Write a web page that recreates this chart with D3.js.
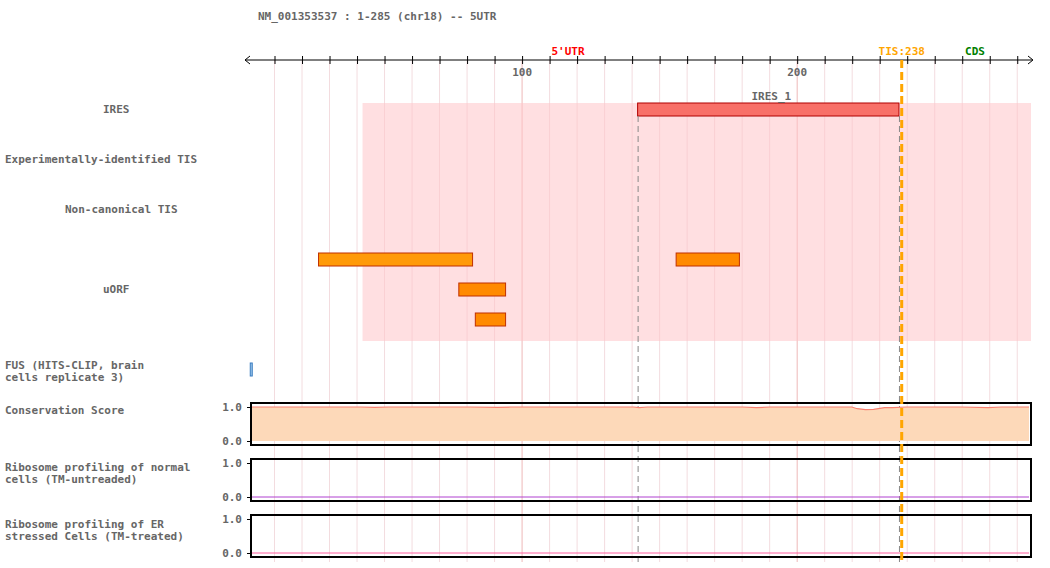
<!DOCTYPE html>
<html><head><meta charset="utf-8">
<script src="https://cdn.jsdelivr.net/npm/d3@7"></script>
<style>
body{margin:0;background:#fff}
text{font-family:"DejaVu Sans Mono",monospace;font-weight:bold;font-size:11px;fill:#666}
</style></head><body><div id="chart"></div>
<script>
// data
const seqLength = 285;
const tisPos = 238;
const ires = [{name: 'IRES_1', start: 142, end: 237}];
const utrBand = [42, 285];
const uorfs = [
  {start: 26, end: 82, row: 0},
  {start: 156, end: 179, row: 0},
  {start: 77, end: 94, row: 1},
  {start: 83, end: 94, row: 2}
];
const fusPeaks = [{start: 1, end: 2}];
const consPos = [0,20,40,45,50,60,80,90,95,100,120,140,142,145,160,180,185,190,200,220,222,225,228,232,235,240,260,270,275,285];
const consVal = [1,1,1,0.99,1,1,1,0.99,1,1,1,1,0.98,1,1,1,0.98,1,1,1,0.95,0.92,0.93,0.98,0.98,1,1,0.98,1,1];
const riboNormal = [0, 0];
const riboStress = [0, 0];
const trackLabels = [
  {text: ['IRES'], y: 113, x: 103},
  {text: ['Experimentally-identified TIS'], y: 163, x: 5},
  {text: ['Non-canonical TIS'], y: 213, x: 65},
  {text: ['uORF'], y: 293, x: 103},
  {text: ['FUS (HITS-CLIP, brain', 'cells replicate 3)'], y: 369, x: 5},
  {text: ['Conservation Score'], y: 414, x: 5},
  {text: ['Ribosome profiling of normal', 'cells (TM-untreaded)'], y: 471, x: 5},
  {text: ['Ribosome profiling of ER', 'stressed Cells (TM-treated)'], y: 528, x: 5}
];

const svg = d3.select('#chart').append('svg').attr('width', 1050).attr('height', 568);
const x = d3.scaleLinear().domain([0, seqLength]).range([247, 1031]);

svg.append('text').attr('x', 258).attr('y', 20).text('NM_001353537 : 1-285 (chr18) -- 5UTR');

// grid
const grid = d3.range(10, seqLength + 1, 10);
svg.append('g').selectAll('line').data(grid).enter().append('line')
  .attr('x1', d => x(d)).attr('x2', d => x(d)).attr('y1', 60).attr('y2', 562)
  .attr('stroke', d => d % 100 === 0 ? '#eeb8b8' : '#f3dcdf').attr('stroke-width', 1);

// pink band
svg.append('rect').attr('x', x(utrBand[0])).attr('width', x(utrBand[1]) - x(utrBand[0]))
  .attr('y', 103).attr('height', 238).attr('fill', '#ffc4c8').attr('opacity', 0.55);

// axis
const axis = d3.axisTop(x).tickValues(grid).tickSize(4).tickFormat('');
const ag = svg.append('g').attr('transform', 'translate(0,60)').call(axis);
ag.select('.domain').attr('d', `M245,0H1032`).attr('stroke', '#000');
ag.selectAll('.tick line').attr('y2', 4).attr('y1', -4).attr('stroke', '#000');
ag.append('path').attr('d', 'M250,-4L245,0L250,4').attr('fill', 'none').attr('stroke', '#000');
ag.append('path').attr('d', 'M1028,-4L1033,0L1028,4').attr('fill', 'none').attr('stroke', '#000');
svg.selectAll('.lbl100').data([100, 200]).enter().append('text')
  .attr('x', d => x(d)).attr('y', 76).attr('text-anchor', 'middle').text(d => d);
svg.append('text').attr('x', 568).attr('y', 55).attr('text-anchor', 'middle').style('fill', '#f00').text("5'UTR");
svg.append('text').attr('x', x(tisPos)).attr('y', 55).attr('text-anchor', 'middle').style('fill', '#ffa500').text('TIS:' + tisPos);
svg.append('text').attr('x', 975).attr('y', 55).attr('text-anchor', 'middle').style('fill', 'green').text('CDS');

// track labels
trackLabels.forEach(l => {
  const t = svg.append('text').attr('x', l.x).attr('y', l.y);
  l.text.forEach((s, i) => t.append('tspan').attr('x', l.x).attr('dy', i ? 12 : 0).text(s));
});

// IRES
svg.selectAll('.ires').data(ires).enter().append('rect')
  .attr('x', d => x(d.start)).attr('width', d => x(d.end) - x(d.start))
  .attr('y', 103).attr('height', 13).attr('fill', '#f87068').attr('stroke', '#b00000');
svg.selectAll('.iresl').data(ires).enter().append('text')
  .attr('x', d => (x(d.start) + x(d.end)) / 2 + 3).attr('y', 100).attr('text-anchor', 'middle').text(d => d.name);
[ires[0].start, ires[0].end].forEach(p => svg.append('line').attr('x1', x(p) + 0.5).attr('x2', x(p) + 0.5)
  .attr('y1', 116).attr('y2', 562).attr('stroke', '#888').attr('stroke-dasharray', '6,4'));

// uORFs
svg.selectAll('.uorf').data(uorfs).enter().append('rect')
  .attr('x', d => x(d.start)).attr('width', d => x(d.end) - x(d.start))
  .attr('y', d => 253 + d.row * 30).attr('height', 13)
  .attr('fill', (d, i) => i === 0 ? '#ff9a08' : '#ff8a00').attr('stroke', '#c03000');

// FUS
svg.selectAll('.fus').data(fusPeaks).enter().append('rect')
  .attr('x', d => x(d.start) + 0.5).attr('width', 2).attr('y', 363).attr('height', 13)
  .attr('fill', '#9cc6ec').attr('stroke', '#3a7cc0').attr('stroke-width', 1);

// tracks
function track(y0, h, draw) {
  const y = d3.scaleLinear().domain([0, 1]).range([y0 + h - 4, y0 + 4]);
  const g = svg.append('g');
  draw(g, y);
  g.append('rect').attr('x', 251).attr('y', y0).attr('width', 780).attr('height', h)
    .attr('fill', 'none').attr('stroke', '#000').attr('stroke-width', 2);
  const ax = g.append('g').attr('transform', 'translate(251,0)')
    .call(d3.axisLeft(y).tickValues([0, 1]).tickFormat(d3.format('.1f')).tickSize(4));
  ax.select('.domain').remove();
  ax.selectAll('text').attr('dx', '-2');
  ax.selectAll('line').attr('stroke', '#000');
}
const xc = d3.scaleLinear().domain([0, seqLength]).range([252, 1029]);
track(403, 42, (g, y) => {
  const data = consPos.map((p, i) => [p, consVal[i]]);
  g.append('path').datum(data).attr('fill', '#fdd9b9')
    .attr('d', d3.area().x(d => xc(d[0])).y0(y(0)).y1(d => y(d[1])));
  g.append('path').datum(data).attr('fill', 'none').attr('stroke', '#f88070').attr('stroke-width', 1.2)
    .attr('d', d3.line().x(d => xc(d[0])).y(d => y(d[1])));
});
track(459, 42, (g, y) => {
  g.append('path').datum(riboNormal).attr('fill', 'none').attr('stroke', '#b040d0')
    .attr('d', d3.line().x((d, i) => xc(i * seqLength)).y(d => y(d)));
});
track(515, 42, (g, y) => {
  g.append('path').datum(riboStress).attr('fill', 'none').attr('stroke', '#ff5fa0')
    .attr('d', d3.line().x((d, i) => xc(i * seqLength)).y(d => y(d)));
});

// TIS line
svg.append('line').attr('x1', x(tisPos)).attr('x2', x(tisPos)).attr('y1', 60).attr('y2', 562)
  .attr('stroke', '#ffa500').attr('stroke-width', 3).attr('stroke-dasharray', '8,4');
</script></body></html>
